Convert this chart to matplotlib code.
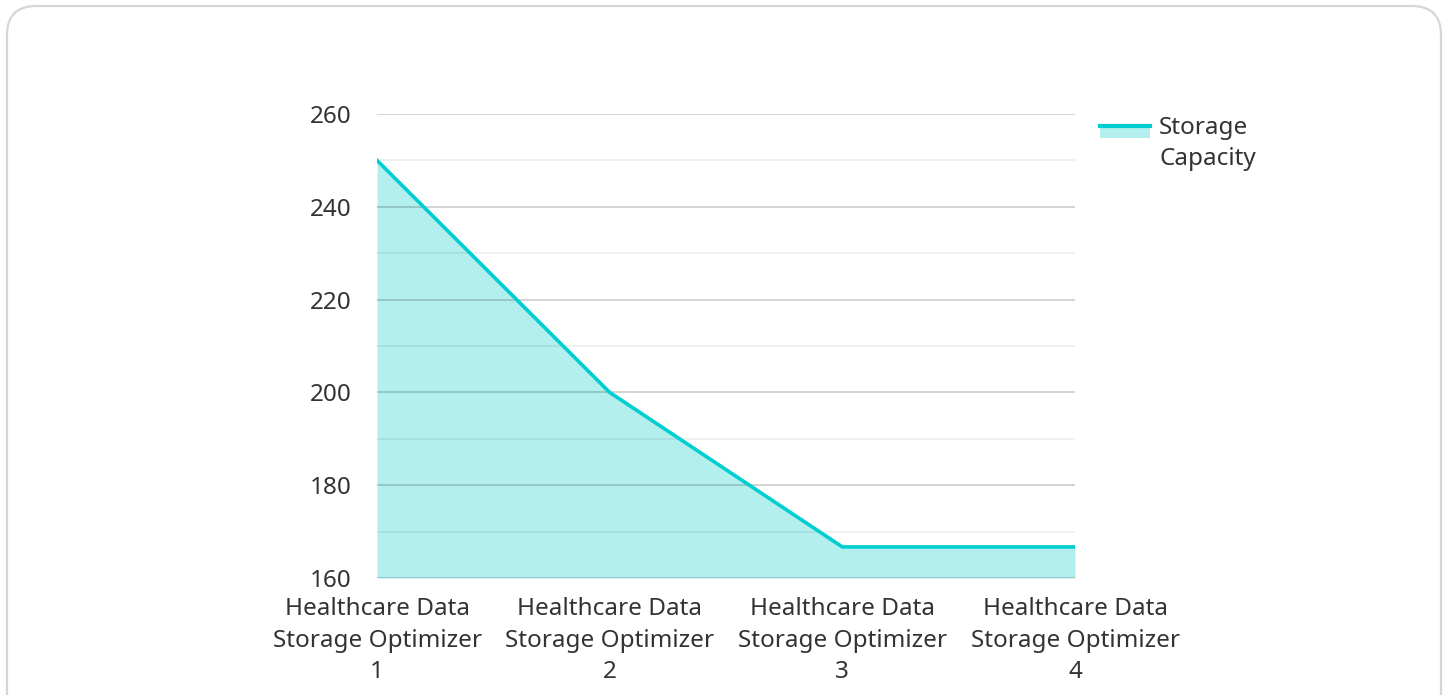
import matplotlib
matplotlib.use('Agg')
import matplotlib.pyplot as plt
from matplotlib.patches import Rectangle, FancyBboxPatch
from matplotlib.lines import Line2D
from matplotlib.ticker import MultipleLocator

plt.rcParams['font.family'] = ['Noto Sans', 'DejaVu Sans']

categories = ['Healthcare Data\nStorage Optimizer\n1', 'Healthcare Data\nStorage Optimizer\n2',
              'Healthcare Data\nStorage Optimizer\n3', 'Healthcare Data\nStorage Optimizer\n4']
capacity = [250, 200, 166.7, 166.7]
series_name = 'Storage\nCapacity'

line_color = '#00CED1'
fill_color = '#B2EFEE'
text_color = '#333333'
fs = 17.5


class AreaHandler:
    # legend key: light fill with the line along its top edge
    def legend_artist(self, legend, orig_handle, fontsize, handlebox):
        x0, y0 = handlebox.xdescent, handlebox.ydescent
        w, h = handlebox.width, handlebox.height
        rect = Rectangle((x0, y0 + 0.86 * h), w, h * 0.7, facecolor=fill_color, edgecolor='none',
                         transform=handlebox.get_transform())
        ln = Line2D([x0, x0 + w], [y0 + 1.56 * h, y0 + 1.56 * h], color=line_color, lw=3,
                    transform=handlebox.get_transform())
        handlebox.add_artist(rect)
        handlebox.add_artist(ln)
        return rect


fig = plt.figure(figsize=(14.49, 6.95), dpi=100)
ax = fig.add_axes([0.2602, 0.1683, 0.7419 - 0.2602, 0.836 - 0.1683])

x = list(range(len(categories)))
ax.fill_between(x, capacity, 160, color=fill_color, linewidth=0, zorder=2)
line, = ax.plot(x, capacity, color=line_color, lw=2.6, zorder=3, solid_joinstyle='miter')

ax.set_xlim(0, 3)
ax.set_ylim(160, 260)
ax.yaxis.set_major_locator(MultipleLocator(20))
ax.yaxis.set_minor_locator(MultipleLocator(10))
# grid sits over the fill, under the line
ax.set_axisbelow(False)
ax.grid(which='major', axis='y', color='black', alpha=0.21, lw=1.1)
ax.grid(which='minor', axis='y', color='black', alpha=0.08, lw=1.1)
for s in ax.spines.values():
    s.set_visible(False)

ax.set_xticks(x)
ax.set_xticklabels(categories, linespacing=1.41)
ax.tick_params(axis='both', length=0, labelsize=fs, labelcolor=text_color)
ax.tick_params(axis='x', pad=14)
ax.tick_params(axis='y', pad=18)
ax.tick_params(which='minor', length=0)

leg = ax.legend([line], [series_name], handler_map={type(line): AreaHandler()},
                loc='upper left', bbox_to_anchor=(1.036, 0.996), frameon=False,
                fontsize=fs, labelcolor=text_color, handlelength=2.06, handletextpad=0.37,
                borderaxespad=0, borderpad=0)
for t in leg.get_texts():
    t.set_linespacing(1.41)

border = FancyBboxPatch((7 / 1449, -0.05), 1434 / 1449, 1.05 - 6 / 695,
                        boxstyle='round,pad=0,rounding_size=0.02', transform=fig.transFigure,
                        facecolor='none', edgecolor='#d6d6d6', lw=1.6, mutation_aspect=1449 / 695)
fig.add_artist(border)

fig.savefig('out.png', dpi=100)
